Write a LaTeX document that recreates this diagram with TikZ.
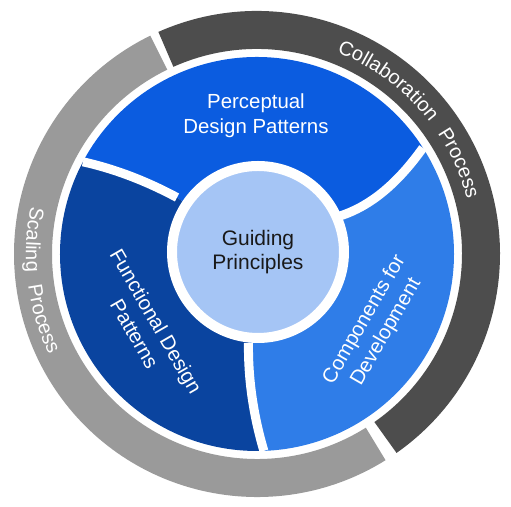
\documentclass[tikz,border=0pt]{standalone}
\usepackage{fontspec}
\setmainfont{Liberation Sans}
\usetikzlibrary{decorations.text}

\definecolor{topblue}{HTML}{0B5CE0}
\definecolor{leftblue}{HTML}{0A449F}
\definecolor{rightblue}{HTML}{2F7DE8}
\definecolor{coreblue}{HTML}{A5C5F5}
\definecolor{ringdark}{HTML}{4D4D4D}
\definecolor{ringlight}{HTML}{9A9A9A}
\newcommand\ringfont{\fontsize{10}{12}\selectfont}

\begin{document}
\begin{tikzpicture}[
    x=0.5pt, y=0.5pt,
    ring/.style={line width=19pt},
    divider/.style={draw=white, line width=4.5pt},
    ringtext/.style={decorate, decoration={text along path, text align=center,
      text color=white, text={|\ringfont|#1}}},
    sectortext/.style={text=white, align=center, font=\fontsize{10.2}{12.5}\selectfont},
    core/.style={circle, fill=coreblue, draw=white, line width=5pt, minimum size=86pt,
      inner sep=0pt, align=center, text=black!90, font=\fontsize{10.5}{12.2}\selectfont},
  ]
  \def\rdisk{197}
  \def\rring{224}
  \useasboundingbox (-257,-253) rectangle (254,254);

  % Outer ring
  \draw[ring, ringdark] (114:\rring) arc[start angle=114, end angle=-55, radius=\rring];
  \draw[ring, ringlight] (-58:\rring) arc[start angle=-58, end angle=-244, radius=\rring];

  % Divider end points
  \coordinate (d1in) at (-80,56.5);
  \coordinate (d1out) at (152.1:\rdisk);
  \coordinate (d2in) at (83,38);
  \coordinate (d2out) at (32.6:\rdisk);
  \coordinate (d3in) at (-8.5,-89);
  \coordinate (d3out) at (-88:\rdisk);

  % Sectors
  \fill[topblue] (0,0) -- (d2in) .. controls (113.7,48) and (140.3,70.3) .. (d2out)
    arc[start angle=32.6, end angle=152.1, radius=\rdisk]
    .. controls (-142.7,85.2) and (-111.3,73.3) .. (d1in) -- cycle;
  \fill[rightblue] (0,0) -- (d2in) .. controls (113.7,48) and (140.3,70.3) .. (d2out)
    arc[start angle=32.6, end angle=-88, radius=\rdisk]
    .. controls (-3.8,-161) and (-9,-124.3) .. (d3in) -- cycle;
  \fill[leftblue] (0,0) -- (d3in) .. controls (-9,-124.3) and (-3.8,-161) .. (d3out)
    arc[start angle=-88, end angle=-207.9, radius=\rdisk]
    .. controls (-142.7,85.2) and (-111.3,73.3) .. (d1in) -- cycle;

  % White dividers
  \draw[divider] (d1in) .. controls (-111.3,73.3) and (-142.7,85.2) .. (d1out);
  \draw[divider] (d2in) .. controls (113.7,48) and (140.3,70.3) .. (d2out);
  \draw[divider] (d3in) .. controls (-9,-124.3) and (-3.8,-161) .. (d3out);

  % Centre
  \node[core] (guiding) at (1,2) {Guiding\\Principles};

  % Sector labels
  \node[sectortext] (perceptual) at (-1,138) {Perceptual\\Design Patterns};
  \node[sectortext, rotate=-60] (functional) at (-111.5,-73.5) {Functional Design\\Patterns};
  \node[sectortext, rotate=60] (components) at (118.5,-72) {Components for\\Development};

  % Ring labels
  \path[ringtext={Collaboration{\kern4pt} Process}] (101.5:217) arc[start angle=101.5, end angle=-18.5, radius=217];
  \path[ringtext={Scaling{\kern4pt} Process}] (127:231) arc[start angle=127, end angle=247, radius=231];
\end{tikzpicture}
\end{document}
